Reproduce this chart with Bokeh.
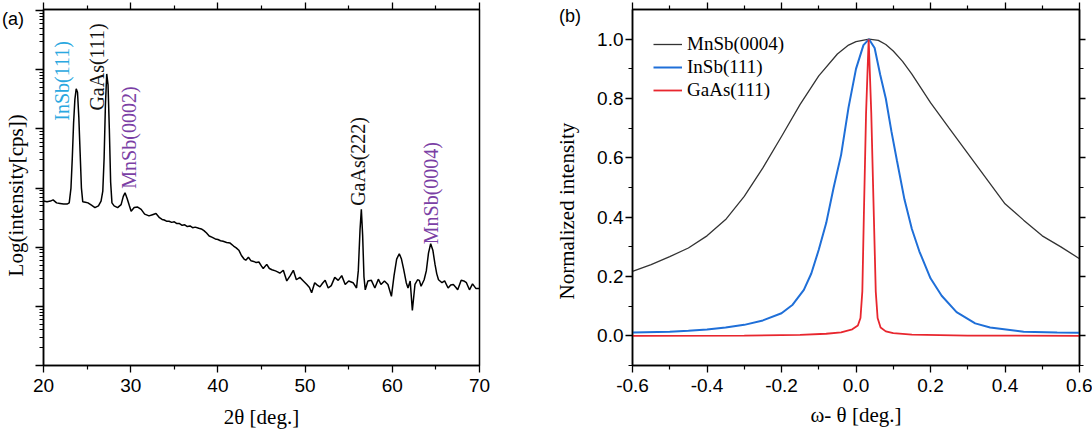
import numpy as np
from bokeh.plotting import figure
from bokeh.layouts import row
from bokeh.models import (LinearAxis, FixedTicker, Range1d, Legend,
                          LegendItem, NumeralTickFormatter)
from bokeh.core.properties import value
from bokeh.embed import file_html
from bokeh.resources import INLINE

# ---------------- Panel (a): 2theta scan (log10 of intensity) ----------------
two_theta = [20.0, 20.4, 20.8, 21.1, 21.5, 21.9, 22.3, 22.7, 22.95, 23.15, 23.3, 23.45, 23.6, 23.75,
             23.9, 24.05, 24.2, 24.35, 24.5, 24.8, 25.1, 25.5, 25.9, 26.3, 26.6, 26.8, 26.95, 27.1,
             27.25, 27.4, 27.55, 27.7, 27.85, 28.1, 28.5, 28.9, 29.15, 29.35, 29.6, 29.85, 30.05,
             30.4, 30.8, 31.2, 31.6, 32.1, 32.5, 32.9, 33.3, 33.6, 33.85, 34.1, 34.4, 34.7, 35.0,
             35.3, 35.6, 35.9, 36.2, 36.5, 36.8, 37.1, 37.4, 37.8, 38.1, 38.4, 38.7, 39.0, 39.3,
             39.7, 40.0, 40.3, 40.6, 41.0, 41.4, 41.8, 42.1, 42.4, 42.7, 43.0, 43.2, 43.5, 43.8,
             44.1, 44.4, 44.7, 45.0, 45.2, 45.6, 45.9, 46.2, 46.6, 46.9, 47.1, 47.5, 47.9, 48.3,
             48.65, 49.0, 49.4, 49.8, 50.2, 50.5, 50.75, 51.1, 51.4, 51.7, 52.0, 52.3, 52.65, 53.0,
             53.4, 53.8, 54.2, 54.6, 55.0, 55.5, 55.9, 56.1, 56.3, 56.45, 56.6, 56.75, 56.9, 57.2,
             57.6, 58.0, 58.4, 58.7, 59.1, 59.5, 59.9, 60.2, 60.5, 60.8, 61.05, 61.3, 61.6, 61.8,
             62.05, 62.3, 62.6, 62.9, 63.1, 63.3, 63.65, 63.9, 64.15, 64.4, 64.65, 64.9, 65.1,
             65.3, 65.7, 66.0, 66.4, 66.7, 67.0, 67.3, 67.5, 67.9, 68.2, 68.5, 68.85, 69.2, 69.6,
             70.0]
log_intensity = [2.78, 2.77, 2.78, 2.80, 2.75, 2.74, 2.73, 2.73, 2.75, 3.0, 3.5, 4.1, 4.5, 4.68,
                 4.62, 4.2, 3.6, 3.0, 2.77, 2.76, 2.75, 2.71, 2.67, 2.70, 2.78, 2.95, 3.5, 4.4,
                 4.93, 4.75, 4.0, 3.1, 2.75, 2.70, 2.67, 2.72, 2.86, 2.92, 2.82, 2.70, 2.61,
                 2.67, 2.68, 2.64, 2.56, 2.53, 2.55, 2.57, 2.50, 2.47, 2.46, 2.44, 2.44, 2.42, 2.43,
                 2.40, 2.40, 2.37, 2.38, 2.35, 2.36, 2.33, 2.34, 2.32, 2.31, 2.28, 2.24, 2.19, 2.17,
                 2.14, 2.13, 2.11, 2.10, 2.08, 2.07, 2.02, 1.99, 1.95, 1.86, 1.80, 1.78, 1.83, 1.77,
                 1.76, 1.74, 1.75, 1.68, 1.64, 1.71, 1.64, 1.62, 1.60, 1.58, 1.56, 1.61, 1.43, 1.52,
                 1.61, 1.45, 1.49, 1.43, 1.37, 1.32, 1.23, 1.40, 1.36, 1.33, 1.39, 1.44, 1.31, 1.35,
                 1.49, 1.44, 1.52, 1.37, 1.43, 1.40, 1.31, 1.6, 2.3, 2.64, 2.2, 1.5, 1.28, 1.43,
                 1.44, 1.31, 1.46, 1.37, 1.43, 1.37, 1.17, 1.52, 1.80, 1.89, 1.80, 1.63, 1.40, 1.31,
                 1.43, 0.93, 1.37, 1.45, 1.44, 1.34, 1.45, 1.60, 1.90, 2.06, 1.95, 1.71, 1.55,
                 1.45, 1.40, 1.43, 1.31, 1.36, 1.37, 1.32, 1.28, 1.44, 1.43, 1.40, 1.28, 1.38, 1.30,
                 1.30]

peak_labels = ["InSb(111)", "GaAs(111)", "MnSb(0002)", "GaAs(222)", "MnSb(0004)"]
peak_label_x = [22.16, 26.09, 29.85, 56.05, 64.42]
peak_label_y = [4.14, 4.31, 2.99, 2.70, 2.05]
peak_label_colors = ["#2aa8e0", "#111111", "#7b3fa5", "#111111", "#7b3fa5"]

# ---------------- Panel (b): rocking curves (normalized) ----------------
mnsb_x = [-0.60, -0.55, -0.50, -0.45, -0.40, -0.35, -0.30, -0.25, -0.20, -0.15, -0.10, -0.05,
          -0.02, 0.00, 0.035, 0.06, 0.08, 0.10, 0.125, 0.15, 0.20, 0.25, 0.30, 0.35, 0.40,
          0.45, 0.50, 0.55, 0.60]
mnsb_y = [0.217, 0.240, 0.267, 0.296, 0.337, 0.392, 0.470, 0.566, 0.672, 0.780, 0.876, 0.950,
          0.980, 0.992, 1.0, 0.996, 0.982, 0.960, 0.925, 0.882, 0.786, 0.700, 0.615, 0.530,
          0.445, 0.390, 0.337, 0.300, 0.260]

insb_x = [-0.60, -0.50, -0.45, -0.40, -0.35, -0.30, -0.25, -0.20, -0.17, -0.14, -0.12, -0.10,
          -0.08, -0.06, -0.04, -0.02, 0.00, 0.02, 0.035, 0.05, 0.065, 0.08, 0.095, 0.11, 0.13,
          0.15, 0.17, 0.20, 0.23, 0.27, 0.32, 0.36, 0.45, 0.54, 0.60]
insb_y = [0.011, 0.014, 0.017, 0.021, 0.028, 0.037, 0.052, 0.076, 0.105, 0.155, 0.21, 0.29,
          0.38, 0.50, 0.61, 0.77, 0.90, 0.98, 1.0, 0.97, 0.88, 0.80, 0.69, 0.59, 0.46,
          0.36, 0.285, 0.194, 0.135, 0.08, 0.042, 0.028, 0.014, 0.011, 0.010]

gaas_x = [-0.60, -0.30, -0.15, -0.08, -0.04, -0.01, 0.005, 0.012, 0.017, 0.021, 0.027, 0.034,
          0.041, 0.048, 0.053, 0.058, 0.066, 0.08, 0.10, 0.15, 0.30, 0.60]
gaas_y = [0.0, 0.001, 0.003, 0.007, 0.012, 0.022, 0.035, 0.06, 0.15, 0.40, 0.75, 1.0,
          0.75, 0.40, 0.15, 0.06, 0.028, 0.015, 0.009, 0.004, 0.001, 0.0]

legend_labels = ["MnSb(0004)", "InSb(111)", "GaAs(111)"]
line_colors = ["#333333", "#1f6fd8", "#e8262e"]
panel_tags = ["(a)", "(b)"]

SANS = "Liberation Sans"
SERIF = "Liberation Serif"
NBSP = "\u00a0"


def style_axis(ax, label_size, show_labels=True):
    ax.axis_line_color = "black"
    ax.axis_line_width = 1.5
    ax.major_tick_line_color = "black"
    ax.minor_tick_line_color = "black"
    ax.major_tick_line_width = 1.3
    ax.minor_tick_line_width = 1.2
    ax.major_tick_in = 0
    ax.minor_tick_in = 0
    ax.major_tick_out = 7
    ax.minor_tick_out = 4
    ax.major_label_text_font = SANS
    if show_labels:
        ax.major_label_text_font_size = label_size
        ax.major_label_text_color = "black"
    else:
        ax.major_label_text_font_size = "0px"
        ax.major_label_text_color = None
        ax.major_label_standoff = 0
    ax.axis_label_text_font = SERIF
    ax.axis_label_text_font_style = "normal"
    ax.axis_label_text_font_size = "21px"
    ax.axis_label_text_color = "black"


# ---------------- figure (a) ----------------
pa = figure(width=540, height=431, x_range=Range1d(20, 70), y_range=Range1d(0, 6.02),
            output_backend="svg", toolbar_location=None,
            min_border_left=40, min_border_right=61, min_border_top=9, min_border_bottom=66)
pa.grid.visible = False
pa.outline_line_color = "black"
pa.outline_line_width = 1.5
pa.outline_line_alpha = 1.0

xa_ticker = FixedTicker(ticks=[20, 30, 40, 50, 60, 70], minor_ticks=[25, 35, 45, 55, 65])
ya_minor = [float(np.log10(k) + d) for d in range(6) for k in range(2, 10)]
ya_ticker = FixedTicker(ticks=[0, 1, 2, 3, 4, 5, 6], minor_ticks=ya_minor)

pa.xaxis.ticker = xa_ticker
pa.xaxis.axis_label = "2θ [deg.]"
style_axis(pa.xaxis[0], "19px")
pa.xaxis.major_label_standoff = 6
pa.xaxis.axis_label_standoff = 10

pa.yaxis.ticker = ya_ticker
# trailing no-break spaces nudge the centred label slightly downward, as in the original
pa.yaxis.axis_label = "Log(intensity[cps])" + NBSP * 3
style_axis(pa.yaxis[0], "19px", show_labels=False)
pa.yaxis.major_tick_out = 8
pa.yaxis.axis_label_standoff = 8

top_a = LinearAxis(ticker=xa_ticker)
style_axis(top_a, "19px", show_labels=False)
pa.add_layout(top_a, "above")

pa.line(two_theta, log_intensity, color="black", line_width=1.5)
pa.text(x=peak_label_x, y=peak_label_y, text=peak_labels, angle=np.pi / 2,
        text_align="left", text_baseline="middle", text_color=peak_label_colors,
        text_font=value(SERIF), text_font_size="20px")

# ---------------- figure (b) ----------------
pb = figure(width=552, height=431, x_range=Range1d(-0.6, 0.6), y_range=Range1d(-0.1, 1.1),
            output_backend="svg", toolbar_location=None,
            min_border_left=92, min_border_right=13, min_border_top=8, min_border_bottom=63)
pb.grid.visible = False
pb.outline_line_color = "black"
pb.outline_line_width = 1.5
pb.outline_line_alpha = 1.0

xb_ticker = FixedTicker(ticks=[-0.6, -0.4, -0.2, 0.0, 0.2, 0.4, 0.6],
                        minor_ticks=[-0.5, -0.3, -0.1, 0.1, 0.3, 0.5])
yb_ticker = FixedTicker(ticks=[0.0, 0.2, 0.4, 0.6, 0.8, 1.0],
                        minor_ticks=[-0.1, 0.1, 0.3, 0.5, 0.7, 0.9])

pb.xaxis.ticker = xb_ticker
pb.xaxis.formatter = NumeralTickFormatter(format="0.0")
pb.xaxis.axis_label = "ω- θ [deg.]"
style_axis(pb.xaxis[0], "19px")
pb.xaxis.major_label_standoff = 6
pb.xaxis.axis_label_standoff = 8

pb.yaxis.ticker = yb_ticker
pb.yaxis.formatter = NumeralTickFormatter(format="0.0")
pb.yaxis.axis_label = "Normalized intensity" + NBSP * 9
style_axis(pb.yaxis[0], "19px")
pb.yaxis.major_label_standoff = 2
pb.yaxis.axis_label_standoff = 15

top_b = LinearAxis(ticker=xb_ticker)
style_axis(top_b, "19px", show_labels=False)
pb.add_layout(top_b, "above")
right_b = LinearAxis(ticker=yb_ticker)
style_axis(right_b, "19px", show_labels=False)
right_b.major_tick_out = 6
pb.add_layout(right_b, "right")

r_mnsb = pb.line(mnsb_x, mnsb_y, color=line_colors[0], line_width=1.3)
r_insb = pb.line(insb_x, insb_y, color=line_colors[1], line_width=2.0)
r_gaas = pb.line(gaas_x, gaas_y, color=line_colors[2], line_width=1.8)

legend = Legend(items=[LegendItem(label=legend_labels[0], renderers=[r_mnsb]),
                       LegendItem(label=legend_labels[1], renderers=[r_insb]),
                       LegendItem(label=legend_labels[2], renderers=[r_gaas])],
                location=(21, 264), orientation="vertical",
                border_line_color=None, background_fill_alpha=0.0,
                padding=0, margin=0, spacing=1, glyph_width=29, glyph_height=20,
                label_height=20, label_standoff=5,
                label_text_font=SERIF, label_text_font_size="19px", label_text_color="black")
pb.add_layout(legend)

layout = row(pa, pb)
html = file_html(layout, INLINE)

# panel tags sit outside the plot frames (Bokeh clips annotations there), so they are
# placed as plain page text on top of the two canvases
tag_style = ("position:absolute;z-index:10;margin:0;padding:0;font-family:'Liberation Sans';"
             "font-size:18px;line-height:18px;color:#000;white-space:nowrap;")
tags_html = (f'<div style="{tag_style}left:2px;top:10px;">{panel_tags[0]}</div>'
             f'<div style="{tag_style}left:559px;top:7px;">{panel_tags[1]}</div>')
html = html.replace("</body>", tags_html + "\n</body>", 1)
open("out.html", "w").write(html)
